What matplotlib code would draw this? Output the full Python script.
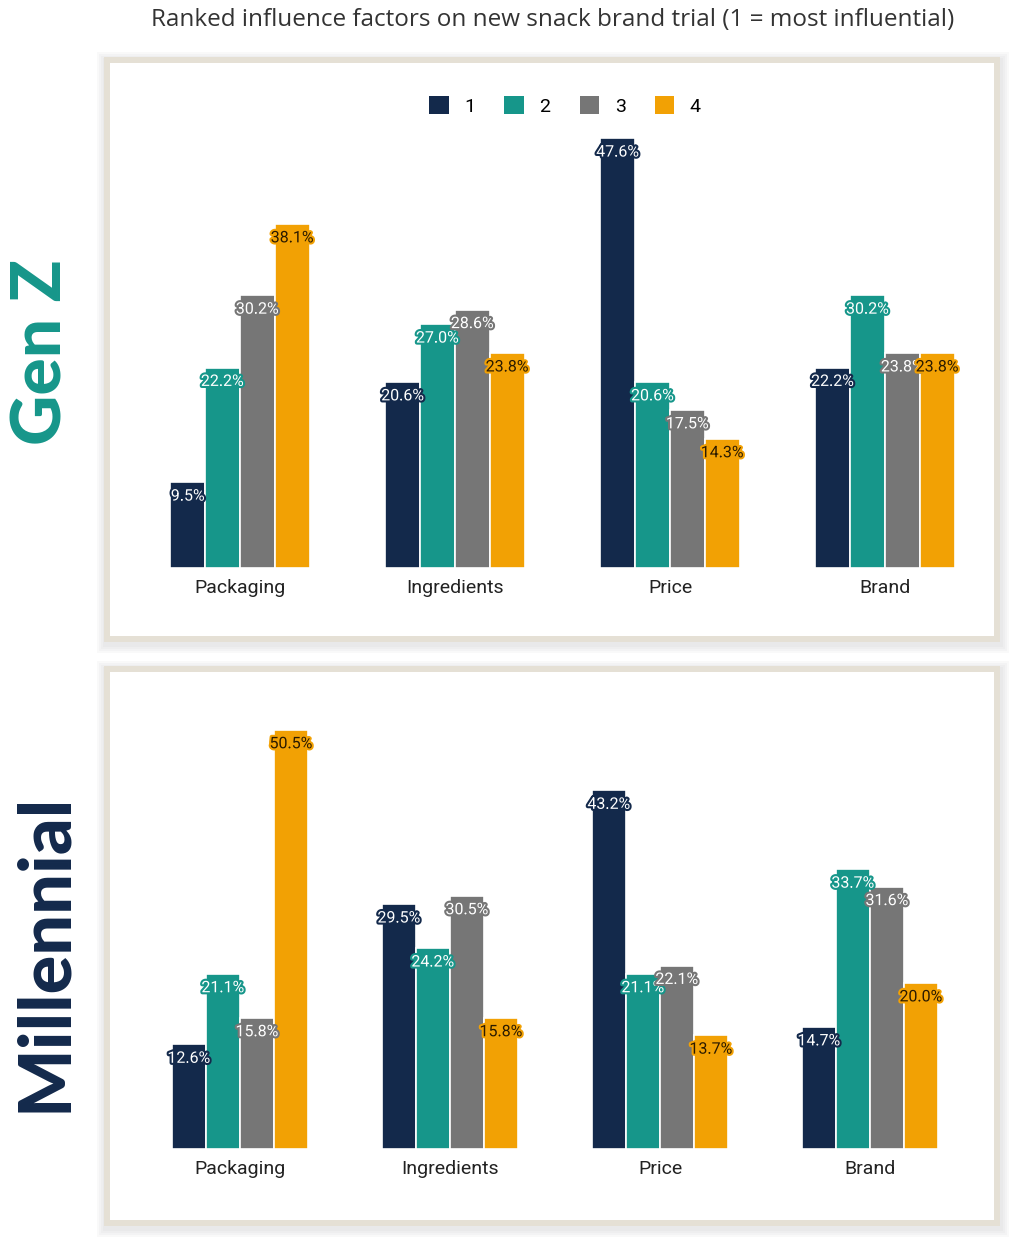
import matplotlib
matplotlib.use('Agg')
import matplotlib.pyplot as plt
import matplotlib.patheffects as pe
from matplotlib.patches import Rectangle
import numpy as np

# Datos
categories = ['Packaging', 'Ingredients', 'Price', 'Brand']
ranks = ['1', '2', '3', '4']
genz_rank1 = [9.5, 20.6, 47.6, 22.2]
genz_rank2 = [22.2, 27.0, 20.6, 30.2]
genz_rank3 = [30.2, 28.6, 17.5, 23.8]
genz_rank4 = [38.1, 23.8, 14.3, 23.8]
mill_rank1 = [12.6, 29.5, 43.2, 14.7]
mill_rank2 = [21.1, 24.2, 21.1, 33.7]
mill_rank3 = [15.8, 30.5, 22.1, 31.6]
mill_rank4 = [50.5, 15.8, 13.7, 20.0]

colors = ['#13294b', '#16968a', '#767676', '#f2a104']
text_colors = ['white', 'white', 'white', '#2a1a00']

W, H = 1024, 1240
fig = plt.figure(figsize=(W / 100, H / 100), dpi=100)
fig.patch.set_facecolor('white')


def px_box(x0, y0, x1, y1):
    # coordenadas en pixeles (origen arriba a la izquierda) -> fraccion de figura
    return [x0 / W, 1 - y1 / H, (x1 - x0) / W, (y1 - y0) / H]


def draw_panel(x0, y0, x1, y1):
    # sombra suave
    for i in range(4):
        d = 2 + i * 2
        r = px_box(x0 - d + 1, y0 - d + 3, x1 + d + 1, y1 + d + 3)
        fig.patches.append(Rectangle((r[0], r[1]), r[2], r[3], transform=fig.transFigure,
                                     facecolor='#a0a2a6', edgecolor='none', alpha=0.06, zorder=-3))
    r = px_box(x0, y0, x1, y1)
    fig.patches.append(Rectangle((r[0], r[1]), r[2], r[3], transform=fig.transFigure,
                                 facecolor='#e5e0d5', edgecolor='none', zorder=-2))
    r = px_box(x0 + 6, y0 + 6, x1 - 6, y1 - 6)
    fig.patches.append(Rectangle((r[0], r[1]), r[2], r[3], transform=fig.transFigure,
                                 facecolor='white', edgecolor='none', zorder=-1))


def draw_bars(ax, series, ymax):
    x = np.arange(len(categories))
    w = 0.162
    for i, vals in enumerate(series):
        pos = x + (i - 1.5) * w
        ax.bar(pos, vals, width=w, color=colors[i], edgecolor='white', linewidth=1.2, zorder=2)
    for i, vals in enumerate(series):
        pos = x + (i - 1.5) * w
        for xp, v in zip(pos, vals):
            ax.annotate(f'{v:.1f}%', (xp, v), xytext=(0, -10), textcoords='offset points',
                        ha='center', va='center', fontsize=11.5, family='Roboto',
                        color=text_colors[i], zorder=5,
                        path_effects=[pe.withStroke(linewidth=3, foreground=colors[i])])
    ax.set_xlim(-0.5, 3.5)
    ax.set_ylim(0, ymax)
    ax.set_xticks(x)
    ax.set_xticklabels(categories, fontsize=14, family='Roboto', color='#222222')
    ax.tick_params(axis='x', length=0, pad=8)
    ax.set_yticks([])
    for s in ax.spines.values():
        s.set_visible(False)
    ax.patch.set_alpha(0)
    ax.set_zorder(2)


draw_panel(104, 57, 1000, 642)
draw_panel(104, 666, 1000, 1226)

ax1 = fig.add_axes(px_box(132.5, 568 - 50 * 9.03, 992.5, 568))
draw_bars(ax1, [genz_rank1, genz_rank2, genz_rank3, genz_rank4], 50)

ax2 = fig.add_axes(px_box(135, 1149 - 52 * 8.30, 975, 1149))
draw_bars(ax2, [mill_rank1, mill_rank2, mill_rank3, mill_rank4], 52)

# Leyenda
handles = [Rectangle((0, 0), 1, 1, facecolor=c, edgecolor='none') for c in colors]
leg = fig.legend(handles, ranks, loc='center', bbox_to_anchor=(565 / W, 1 - 106 / H), ncol=4,
                 frameon=False, prop={'family': 'Roboto', 'size': 14},
                 handlelength=1.0, handleheight=1.0, columnspacing=1.5, handletextpad=0.8)
leg.set_zorder(3)

fig.text(553 / W, 1 - 20 / H,
         'Ranked influence factors on new snack brand trial (1 = most influential)',
         ha='center', va='center', fontsize=17.5, family='Open Sans', color='#333333')

fig.text(42 / W, 1 - 352 / H, 'Gen Z', rotation=90, ha='center', va='center',
         fontsize=50, family='Lato', weight='black', color='#16968a')
fig.text(45 / W, 1 - 952 / H, 'Millennial', rotation=90, ha='center', va='center',
         fontsize=52, family='Lato', weight='black', color='#13294b')

fig.savefig('out.png', dpi=100)
